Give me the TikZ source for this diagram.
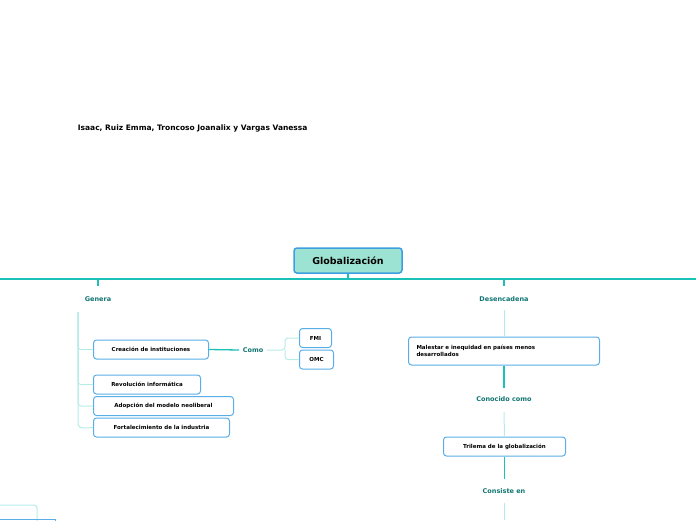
\documentclass[tikz,border=0pt]{standalone}
\usepackage{fontspec}
\setmainfont{DejaVu Sans}
\definecolor{teal1}{HTML}{19C1B6}
\definecolor{lite}{HTML}{B5ECE8}
\definecolor{lab}{HTML}{0F7470}
\definecolor{bord}{HTML}{5AAEE8}
\definecolor{rootfill}{HTML}{9DE3D3}
\definecolor{rootbord}{HTML}{3D9EE0}
\begin{document}
\begin{tikzpicture}[x=1pt,y=-1pt,
  leaf/.style={draw=bord,line width=1pt,rounded corners=3pt,fill=white,font=\bfseries\fontsize{5.5}{6.5}\selectfont,anchor=west,inner xsep=8pt,minimum height=19pt},
  lbl/.style={text=lab,font=\bfseries\fontsize{6.5}{8}\selectfont},
  strong/.style={draw=teal1,line width=1.3pt},
  weak/.style={draw=lite,line width=1pt}]
\useasboundingbox (0,0) rectangle (696,520);
\clip (0,0) rectangle (696,520);
\node[anchor=east,font=\bfseries\fontsize{7.5}{9}\selectfont] (auth) at (311,128) {Isaac, Ruiz Emma, Troncoso Joanalix y Vargas Vanessa};
\node[draw=rootbord,fill=rootfill,line width=1.5pt,rounded corners=3pt,minimum width=108pt,minimum height=25pt,font=\bfseries\fontsize{9.5}{11}\selectfont] (root) at (348,260.5) {Globalización};
\coordinate (hl) at (0,279); \coordinate (hr) at (696,279);
\draw[draw=teal1,line width=2.5pt] (hl) -- (hr);
\draw[strong,line width=2pt] (root.south) -- (348,279);
\node[lbl] (gen) at (98,299) {Genera};
\node[lbl] (des) at (504,299) {Desencadena};
\draw[strong,line width=2pt] (98,279) -- (98,286);
\draw[strong,line width=2pt] (504,279) -- (504,286);
% Genera children
\node[leaf,minimum width=115pt] (c1) at (93,349.5) {Creación de instituciones};
\node[leaf,minimum width=107pt] (c2) at (93,384.5) {Revolución informática};
\node[leaf,minimum width=140pt] (c3) at (93,406) {Adopción del modelo neoliberal};
\node[leaf,minimum width=136pt] (c4) at (93,427.5) {Fortalecimiento de la industria};
\draw[weak] (78,312) -- (78,424) to[out=-90,in=180] (c4.west);
\foreach \n in {c1,c2,c3} \draw[weak,rounded corners=3pt] (78,312) |- (\n.west);
\node[lbl] (como) at (253,350) {Como};
\draw[strong] (c1.east) -- (como.west);
\node[leaf,minimum width=32pt,inner xsep=4pt] (fmi) at (299,338) {FMI};
\node[leaf,minimum width=34pt,inner xsep=4pt] (omc) at (299,359.5) {OMC};
\draw[weak,rounded corners=3pt] (como.east) -- (285,350) |- (fmi.west);
\draw[weak,rounded corners=3pt] (285,350) |- (omc.west);
% Desencadena chain
\node[leaf,minimum width=191pt,minimum height=28pt,align=left,text width=175pt,inner xsep=8pt] (mal) at (408,351) {Malestar e inequidad en países menos\\desarrollados};
\draw[weak] (des.south)+(0,5) -- (mal.north);
\node[lbl] (con) at (504,399) {Conocido como};
\draw[strong] (mal.south) -- ++(0,22);
\node[leaf,minimum width=122pt] (tri) at (443,446.5) {Trilema de la globalización};
\draw[weak] (504,412) -- (tri.north);
\node[lbl] (cons) at (504,491) {Consiste en};
\draw[strong] (tri.south) -- ++(0,22);
\draw[weak] (504,503) -- (504,520);
% bottom-left partial
\draw[weak,rounded corners=3pt] (0,505) -- (37,505) -- (37,522);
\node[draw=bord,line width=1pt,minimum width=70pt,minimum height=20pt,anchor=north west] (bl) at (-15,519) {};
\end{tikzpicture}
\end{document}
